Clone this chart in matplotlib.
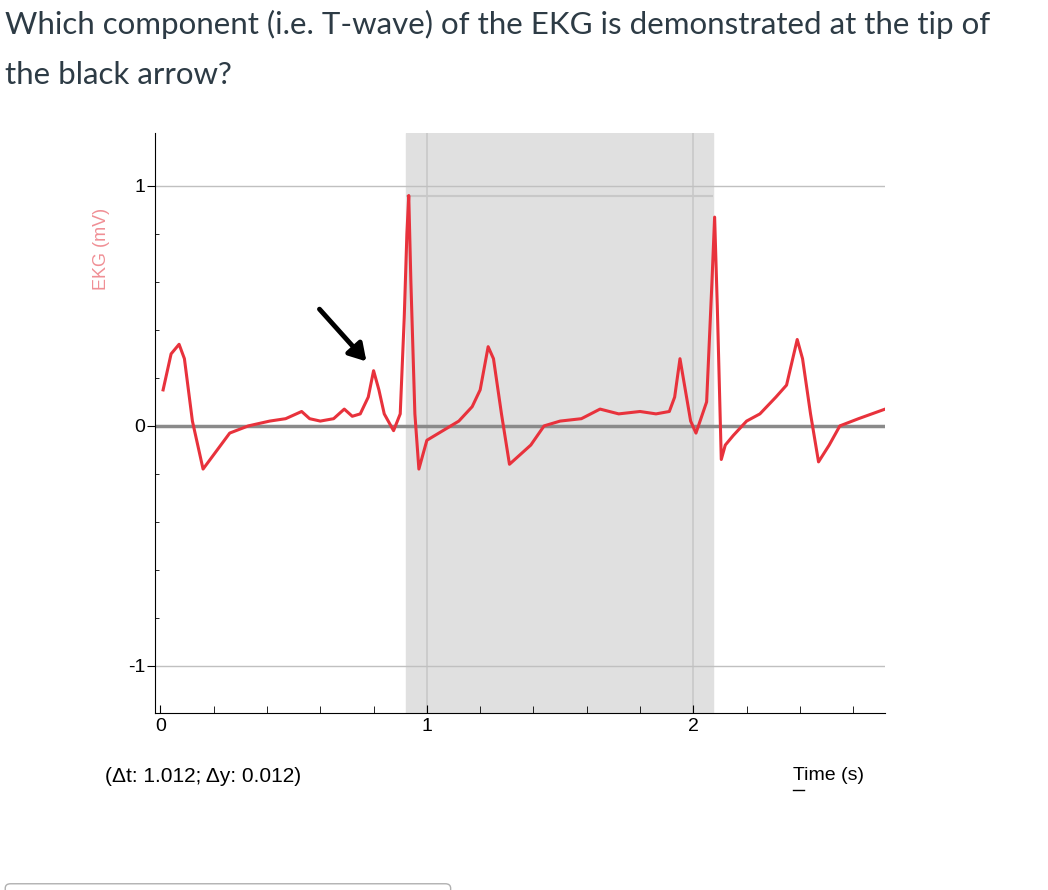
import matplotlib.pyplot as plt
from matplotlib.patches import FancyBboxPatch

# EKG trace (time in s, voltage in mV)
t = [0.01, 0.04, 0.07, 0.09, 0.12, 0.16, 0.20, 0.26, 0.33, 0.41, 0.47, 0.53, 0.56, 0.60,
     0.65, 0.69, 0.72, 0.75, 0.78, 0.80, 0.82, 0.84, 0.875, 0.90, 0.915, 0.925, 0.932,
     0.94, 0.955, 0.97, 1.00, 1.06, 1.12, 1.17, 1.20, 1.23, 1.25, 1.28, 1.31, 1.35,
     1.39, 1.44, 1.50, 1.58, 1.65, 1.72, 1.80, 1.86, 1.91, 1.93, 1.95, 1.97, 1.99,
     2.01, 2.05, 2.07, 2.08, 2.09, 2.105, 2.12, 2.15, 2.20, 2.25, 2.31, 2.35, 2.39,
     2.41, 2.44, 2.47, 2.51, 2.55, 2.62, 2.72]
v = [0.15, 0.30, 0.34, 0.28, 0.02, -0.18, -0.12, -0.03, 0.00, 0.02, 0.03, 0.06, 0.03, 0.02,
     0.03, 0.07, 0.04, 0.05, 0.12, 0.23, 0.15, 0.05, -0.02, 0.05, 0.45, 0.80, 0.96,
     0.60, 0.05, -0.18, -0.06, -0.02, 0.02, 0.08, 0.15, 0.33, 0.28, 0.05, -0.16, -0.12,
     -0.08, 0.00, 0.02, 0.03, 0.07, 0.05, 0.06, 0.05, 0.06, 0.12, 0.28, 0.15, 0.02,
     -0.03, 0.10, 0.60, 0.87, 0.50, -0.14, -0.08, -0.04, 0.02, 0.05, 0.12, 0.17, 0.36,
     0.28, 0.05, -0.15, -0.08, 0.00, 0.03, 0.07]

shade_start, shade_end = 0.923, 2.075
cursor_lines = [1.0, 2.0]
cursor_level = 0.96

plt.rcParams['font.family'] = ['Liberation Sans', 'DejaVu Sans']

fig = plt.figure(figsize=(10.48, 8.9), dpi=100)
fig.text(0.005, 0.972, "Which component (i.e. T-wave) of the EKG is demonstrated at the tip of",
         fontsize=22.5, family="Lato", va="center", color="#2d3b45")
fig.text(0.005, 0.916, "the black arrow?", fontsize=22.5, family="Lato", va="center", color="#2d3b45")

ax = fig.add_axes([0.148, 0.199, 0.6966, 0.6517])
ax.set_xlim(-0.02, 2.72)
ax.set_ylim(-1.196, 1.221)

ax.axvspan(shade_start, shade_end, color="#e0e0e0", zorder=0)
for c in cursor_lines:
    ax.axvline(c, color="#c8c8c8", lw=1.2, zorder=1)
ax.hlines(cursor_level, shade_start, shade_end, color="#c8c8c8", lw=1.5, zorder=1)
for g in [1, -1]:
    ax.axhline(g, color="#c0c0c0", lw=1, zorder=1)
ax.axhline(0, color="#8a8a8a", lw=2.5, zorder=1)

ax.plot(t, v, color="#e8323c", lw=2.2, zorder=3)

ax.annotate("", xy=(0.78, 0.26), xytext=(0.59, 0.495),
            arrowprops=dict(arrowstyle="-|>,head_width=0.6,head_length=1.0", color="black", lw=3.5))

for s in ["top", "right"]:
    ax.spines[s].set_visible(False)
ax.set_xticks([0, 1, 2])
ax.set_xticklabels(["0", "1", "2"])
ax.set_xticks([i * 0.2 for i in range(14) if i % 5], minor=True)
ax.set_yticks([-1, 0, 1])
ax.set_yticklabels(["-1", "0", "1"])
ax.set_yticks([i * 0.2 for i in range(-5, 6) if i % 5], minor=True)
ax.tick_params(axis="x", direction="in", length=6, labelsize=14)
ax.tick_params(axis="x", which="minor", direction="in", length=5)
ax.tick_params(axis="y", direction="out", length=6, labelsize=14, pad=1)
ax.tick_params(axis="y", which="minor", direction="in", length=3)

fig.text(0.097, 0.72, "EKG (mV)", rotation=90, color="#f08f95", fontsize=13, va="center", ha="center")
fig.text(0.1, 0.128, "(\u0394t: 1.012; \u0394y: 0.012)", fontsize=15, va="center")
fig.text(0.757, 0.129, "Time (s)", fontsize=14, va="center")
fig.add_artist(plt.Line2D([0.757, 0.767], [0.112, 0.112], color="black", lw=1))

fig.patches.append(FancyBboxPatch((0.005, -0.02), 0.425, 0.027, boxstyle="round,pad=0,rounding_size=0.005",
                                  transform=fig.transFigure, fill=False, ec="#b0b0b0", lw=1))

fig.savefig("out.png", dpi=100)
